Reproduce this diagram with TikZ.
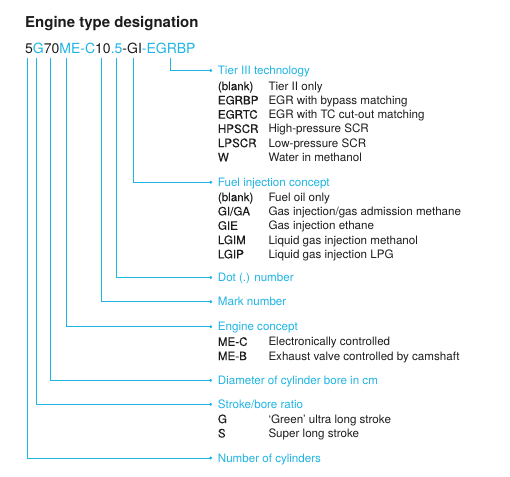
\documentclass[tikz,border=0pt]{standalone}
\usepackage{fontspec}
\setmainfont{TeX Gyre Heros}
\newfontfamily\keyfont[FakeBold=0.2]{TeX Gyre Heros}
\definecolor{mancyan}{RGB}{30,180,228}
\definecolor{mantext}{RGB}{28,28,28}
\begin{document}
\begin{tikzpicture}[x=1pt,y=-1pt,
  conn/.style={draw=mancyan,line width=1pt},
  hdr/.style={anchor=west,inner xsep=7pt,inner ysep=0pt,text height=8.3pt,text depth=0pt,
    font=\fontsize{11.6}{13}\selectfont,text=mancyan},
  itm/.style={anchor=west,inner sep=0pt,text height=8.3pt,text depth=0pt,
    font=\fontsize{11.6}{13}\selectfont,text=mantext},
  key/.style={itm,font=\keyfont\fontsize{11.6}{13}\selectfont}]
\useasboundingbox (0,0) rectangle (510,476);
% title
\node[anchor=base west,inner sep=0pt,font=\fontsize{15}{18}\selectfont\bfseries,text=mantext] (title) at (25,27.7) {Engine type designation};
\node[anchor=base west,inner sep=0pt,font=\fontsize{14}{17}\selectfont,text=mantext] (desig) at (25,53.3)
  {5\textcolor{mancyan}{G}70\textcolor{mancyan}{ME-C}10\textcolor{mancyan}{.5}-GI\textcolor{mancyan}{-EGRBP}};
% line tops
\coordinate (t1) at (27.7,58);
\coordinate (t2) at (36.3,58);
\coordinate (t3) at (50,58);
\coordinate (t4) at (66.7,58);
\coordinate (t5) at (101.7,58);
\coordinate (t6) at (116.7,58);
\coordinate (t7) at (133.3,58);
\coordinate (t8) at (170,58);
% headers
\node[hdr] (h8) at (210.7,70.5) {Tier III technology};
\node[hdr] (h7) at (210.7,182.3) {Fuel injection concept};
\node[hdr] (h6) at (210.7,277.5) {Dot (.) number};
\node[hdr] (h5) at (210.7,301.7) {Mark number};
\node[hdr] (h4) at (210.7,326.7) {Engine concept};
\node[hdr] (h3) at (210.7,380.3) {Diameter of cylinder bore in cm};
\node[hdr] (h2) at (210.7,404.3) {Stroke/bore ratio};
\node[hdr] (h1) at (210.7,458) {Number of cylinders};
% connectors
\foreach \i in {1,...,8}{
  \draw[conn] (t\i) |- (h\i.west);
  \fill[mancyan] (h\i.west) circle (1.6);
}
% Tier III items
\node[key] (k81) at (217.7,86) {(blank)};  \node[itm] (d81) at (268.3,86) {Tier II only};
\node[key] (k82) at (217.7,100.3) {EGRBP};  \node[itm] (d82) at (268.3,100.3) {EGR with bypass matching};
\node[key] (k83) at (217.7,114.5) {EGRTC};  \node[itm] (d83) at (268.3,114.5) {EGR with TC cut-out matching};
\node[key] (k84) at (217.7,128.8) {HPSCR};  \node[itm] (d84) at (268.3,128.8) {High-pressure SCR};
\node[key] (k85) at (217.7,143) {LPSCR};  \node[itm] (d85) at (268.3,143) {Low-pressure SCR};
\node[key] (k86) at (217.7,157.2) {W};  \node[itm] (d86) at (268.3,157.2) {Water in methanol};
% Fuel injection items
\node[key] (k71) at (217.7,197) {(blank)};  \node[itm] (d71) at (268.3,197) {Fuel oil only};
\node[key] (k72) at (217.7,211.3) {GI/GA};  \node[itm] (d72) at (268.3,211.3) {Gas injection/gas admission methane};
\node[key] (k73) at (217.7,225.6) {GIE};  \node[itm] (d73) at (268.3,225.6) {Gas injection ethane};
\node[key] (k74) at (217.7,239.9) {LGIM};  \node[itm] (d74) at (268.3,239.9) {Liquid gas injection methanol};
\node[key] (k75) at (217.7,254.2) {LGIP};  \node[itm] (d75) at (268.3,254.2) {Liquid gas injection LPG};
% Engine concept items
\node[key] (k41) at (217.7,341.7) {ME-C};  \node[itm] (d41) at (268.3,341.7) {Electronically controlled};
\node[key] (k42) at (217.7,356) {ME-B};  \node[itm] (d42) at (268.3,356) {Exhaust valve controlled by camshaft};
% Stroke items
\node[key] (k21) at (217.7,419) {G};  \node[itm] (d21) at (268.3,419) {‘Green’ ultra long stroke};
\node[key] (k22) at (217.7,433.3) {S};  \node[itm] (d22) at (268.3,433.3) {Super long stroke};
\end{tikzpicture}
\end{document}
